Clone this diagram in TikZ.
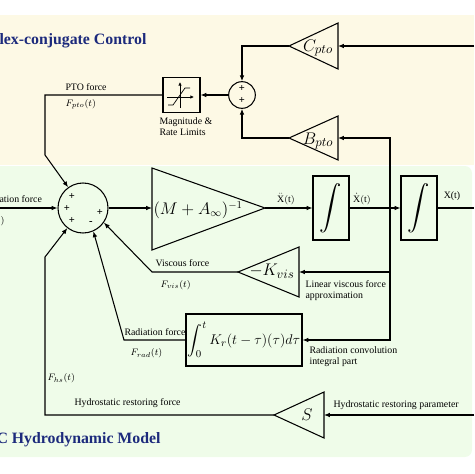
\documentclass[tikz,border=0pt]{standalone}
\usepackage{amsmath,amssymb}
\usepackage{fontspec}
\setmainfont{Liberation Serif}
\usepackage{xcolor}
\usetikzlibrary{arrows.meta}
\definecolor{ctrlbg}{HTML}{FDF9E5}
\definecolor{hydrobg}{HTML}{EFFCE9}
\definecolor{titleblue}{HTML}{1C2A7C}

\begin{document}
\begin{tikzpicture}[
  x=0.03cm, y=-0.03cm, line width=0.9pt,
  arr/.style={-{Latex[length=5pt,width=4pt]}},
  blk/.style={draw, inner sep=0pt},
  lbl/.style={font=\fontsize{8.4}{9.8}\selectfont, inner sep=0pt, anchor=west},
  sig/.style={font=\fontsize{9}{9}\selectfont\bfseries, inner sep=0pt},
  gainlbl/.style={font=\fontsize{15}{16}\selectfont, inner sep=0pt},
  title/.style={font=\fontsize{13.5}{15}\selectfont\bfseries, text=titleblue,
                inner sep=0pt, anchor=west},
]
  \useasboundingbox (0,0) rectangle (474,474);
  \clip (0,0) rectangle (474,474);
  \fill[ctrlbg] (-10,15) rectangle (474,165);
  \fill[hydrobg, rounded corners=6pt] (-10,166) rectangle (472,457);

  \node[title] (ctrltitle) at (-1,41) {lex-conjugate Control};
  \node[title] (hydrotitle) at (-4,440) {C Hydrodynamic Model};

  \node[blk, circle, minimum size=1.5cm] (sum1) at (83,208) {};
  \node[sig] at (72,197) {+};
  \node[sig] at (67,209) {+};
  \node[sig] at (72,221) {+};
  \node[sig] at (91,223) {-};
  \node[sig] at (100,213) {+};
  \node[blk, circle, minimum size=0.8cm] (sum2) at (242,95) {};
  \node[sig] at (242,89) {+};
  \node[sig] at (242,101) {+};

  \node[blk, minimum width=1.11cm, minimum height=1.05cm] (lim) at (181.5,95) {};
  \draw[line width=0.6pt, -{Latex[length=3pt,width=3pt]}] (180,108) -- (180,82);
  \draw[line width=0.6pt, -{Latex[length=3pt,width=3pt]}] (167,97) -- (194,97);
  \draw[line width=0.6pt] (168,105) -- (173,105) -- (185,88) -- (190,88);

  \draw (289,46) -- (338,23) -- (338,69) -- cycle;
  \coordinate (cpto-a) at (289,46);
  \coordinate (cpto-b) at (338,46);
  \node[gainlbl] (cpto) at (318,48) {$C_{pto}$};

  \draw (289,138) -- (338,116) -- (338,160) -- cycle;
  \coordinate (bpto-a) at (289,138);
  \coordinate (bpto-b) at (338,138);
  \node[gainlbl] (bpto) at (318,141) {$B_{pto}$};

  \draw (152,168) -- (265,208) -- (152,250) -- cycle;
  \coordinate (minv-a) at (265,208);
  \coordinate (minv-b) at (152,208);
  \node[gainlbl, anchor=west, font=\fontsize{13.5}{15}\selectfont] (minv) at (153,210)
       {$(M+A_\infty)^{-1}$};

  \draw (238,272) -- (299,247) -- (299,297) -- cycle;
  \coordinate (kvis-a) at (238,272);
  \coordinate (kvis-b) at (299,272);
  \node[gainlbl] (kvis) at (272,271) {$-K_{vis}$};

  \draw (274,415) -- (324,392) -- (324,438) -- cycle;
  \coordinate (s-a) at (274,415);
  \coordinate (s-b) at (324,415);
  \node[gainlbl] (sgain) at (307,415) {$S$};

  \node[blk, minimum width=1.08cm, minimum height=1.92cm] (int1) at (331,208)
       {\fontsize{19}{21}\selectfont$\displaystyle\int$};
  \node[blk, minimum width=1.08cm, minimum height=1.92cm] (int2) at (419,208)
       {\fontsize{19}{21}\selectfont$\displaystyle\int$};
  \node[blk, minimum width=3.48cm, minimum height=1.56cm] (rad) at (244,340)
       {\fontsize{12.5}{14}\selectfont$\displaystyle\int_0^t K_r(t-\tau)(\tau)d\tau$};

  \coordinate (cin) at (474,46);
  \coordinate (fin) at (0,208);
  \coordinate (xout) at (474,208);
  \coordinate (jx) at (390,208);
  \coordinate (sin) at (474,415);

  \draw[arr] (cin) -- (cpto-b);
  \draw[arr] (cpto-a) -| (sum2);
  \draw[arr] (bpto-a) -| (sum2);
  \draw[arr] (sum2) -- (lim);
  \draw[arr] (lim.west) -| (45,155) -- (sum1);
  \draw[arr] (fin) -- (sum1);
  \draw[arr] (sum1) -- (minv-b);
  \draw[arr] (minv-a) -- (int1);
  \draw[arr] (int1) -- (int2);
  \draw (int2) -- (xout);
  \draw[arr] (jx) |- (bpto-b);
  \draw[arr] (jx) |- (kvis-b);
  \draw[arr] (jx) |- (rad);
  \draw[arr] (kvis-a) -- (152,272) -- (sum1.-35);
  \draw[arr] (rad) -- (124,340) -- (sum1.-66);
  \draw[arr] (sin) -- (s-b);
  \draw[arr] (s-a) -- (45,415) -- (45,257) -- (sum1.-128);

  \node[lbl] at (65,87) {PTO force};
  \node[lbl] at (65,104) {$F_{pto}(t)$};
  \node[lbl, anchor=north west, align=left] at (159,117) {Magnitude \&\\Rate Limits};
  \node[lbl] at (-1,199) {ation force};
  \node[lbl] at (0,221) {$)$};
  \node[lbl] at (155,263) {Viscous force};
  \node[lbl] at (160,285) {$F_{vis}(t)$};
  \node[lbl, anchor=north west, align=left] at (305,280) {Linear viscous force\\approximation};
  \node[lbl] at (124,332) {Radiation force};
  \node[lbl] at (130,353) {$F_{rad}(t)$};
  \node[lbl, anchor=north west, align=left] at (309,346) {Radiation convolution\\integral part};
  \node[lbl] at (47,378) {$F_{hs}(t)$};
  \node[lbl] at (74,403) {Hydrostatic restoring force};
  \node[lbl] at (333,405) {Hydrostatic restoring parameter};
  \node[lbl, anchor=south] at (286,205) {$\ddot{\mathrm{X}}(\mathrm{t})$};
  \node[lbl, anchor=south] at (362,205) {$\dot{\mathrm{X}}(\mathrm{t})$};
  \node[lbl, anchor=south] at (452,201) {X(t)};
\end{tikzpicture}
\end{document}
